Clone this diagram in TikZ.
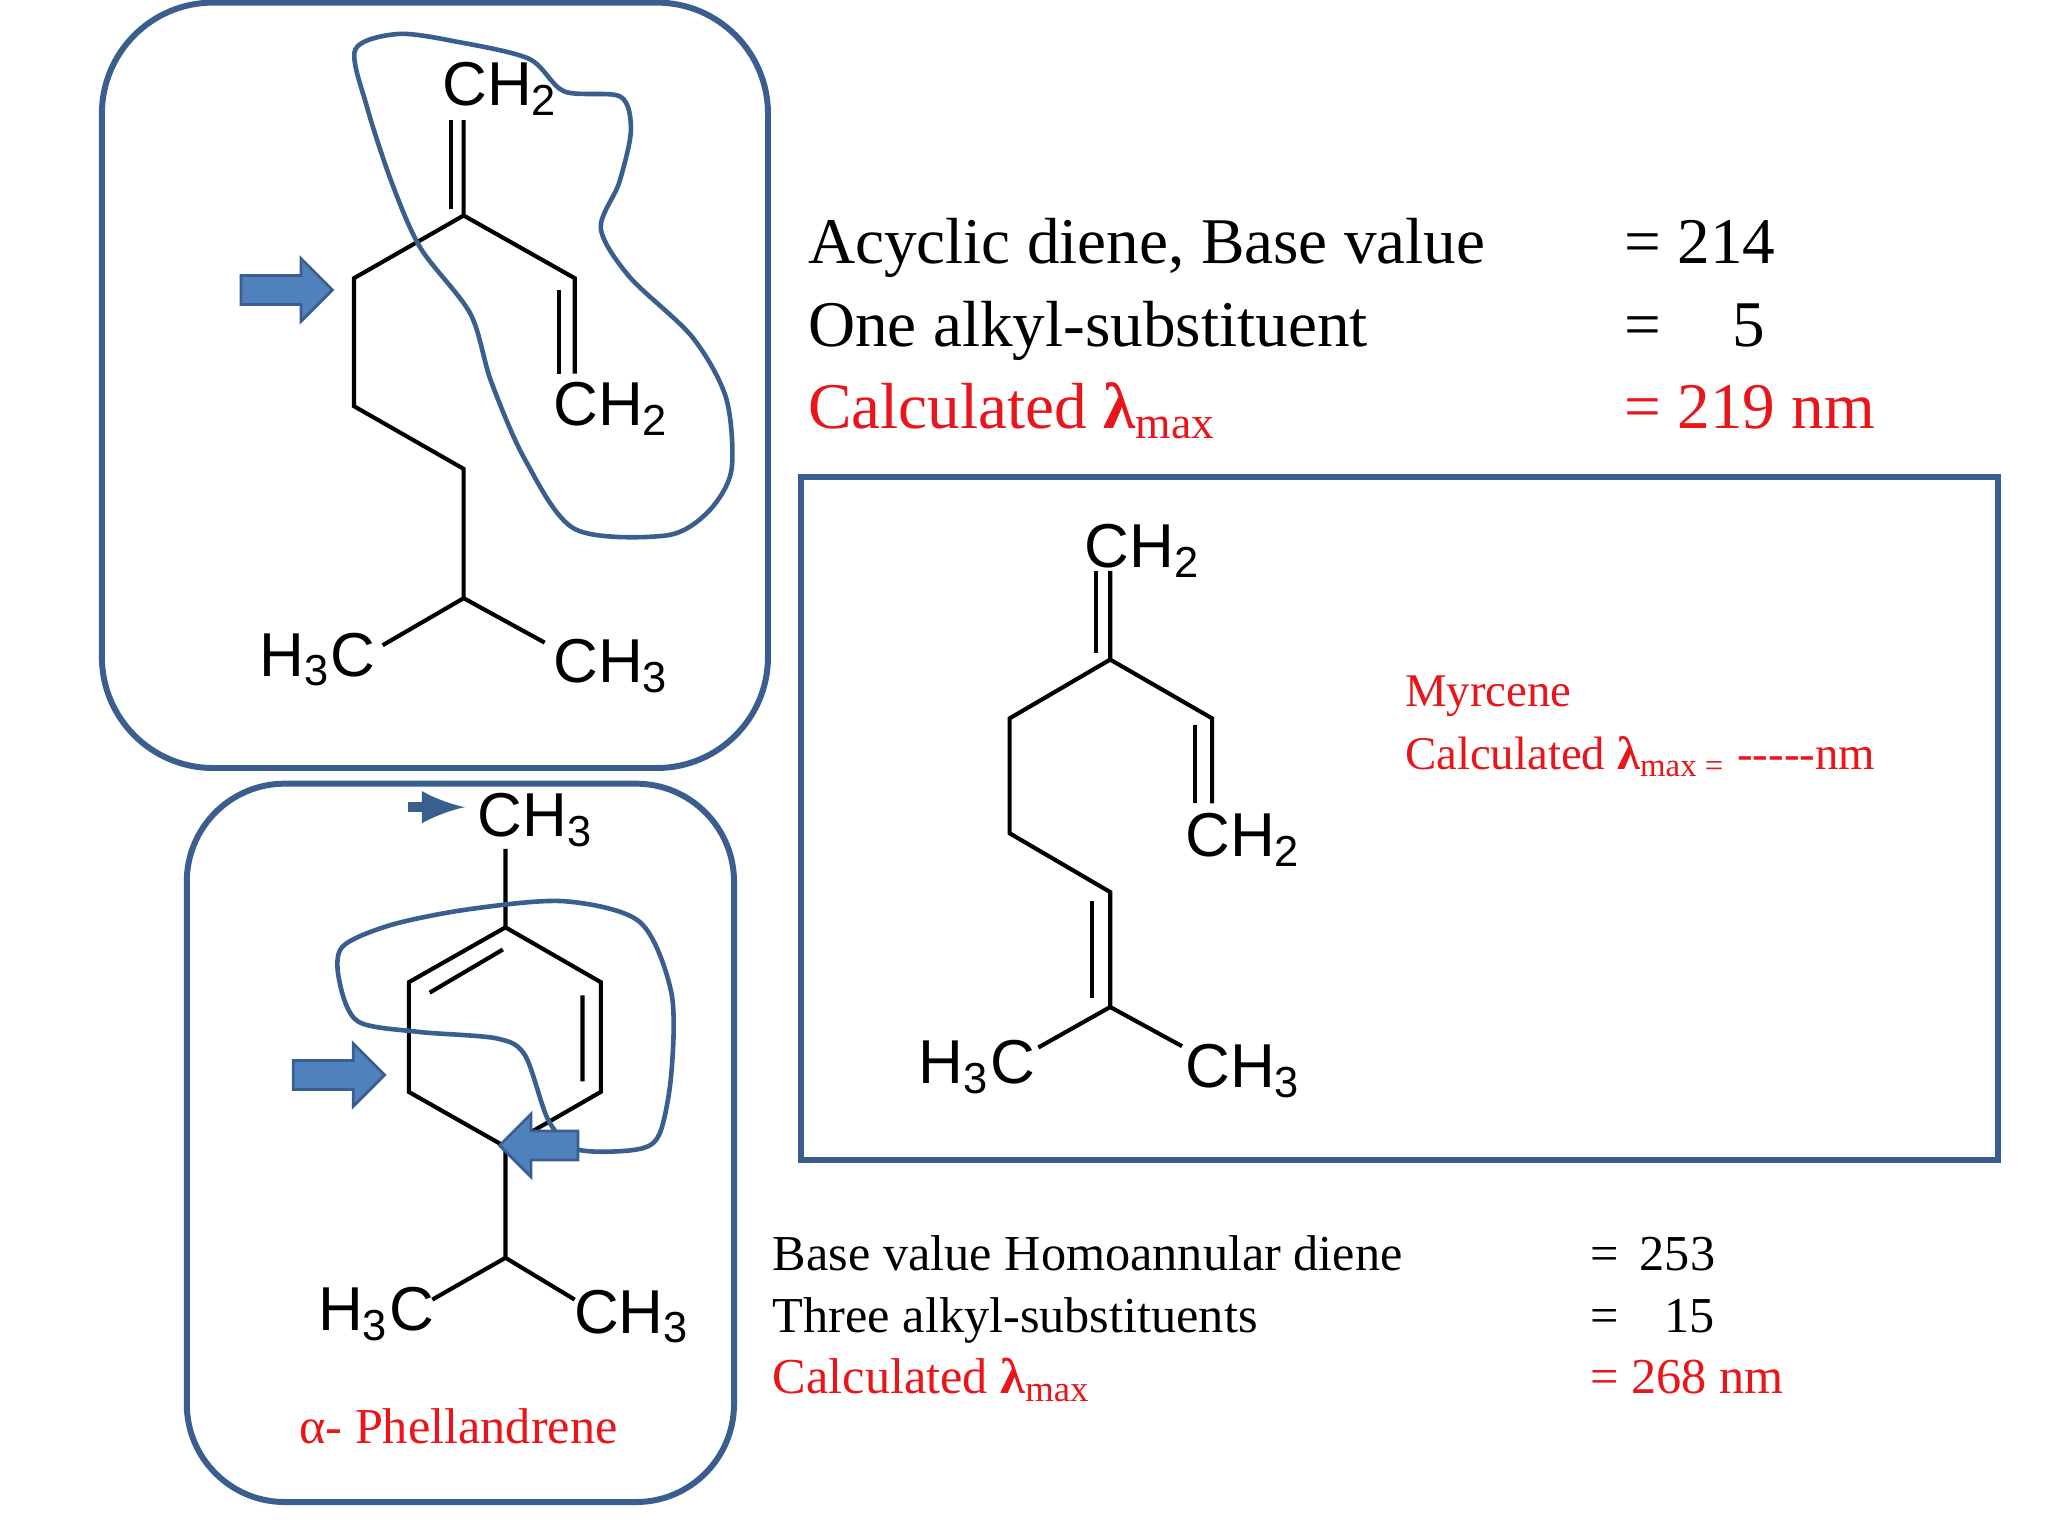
\documentclass[tikz,border=0pt]{standalone}
\usepackage{fontspec}
\setmainfont{Liberation Serif}
\newfontfamily\chem{Liberation Sans}
\usetikzlibrary{shapes.arrows}
\definecolor{frame}{HTML}{3A5F8F}
\definecolor{arr}{HTML}{4F81BD}
\definecolor{red1}{HTML}{E8161B}
\begin{document}
\begin{tikzpicture}[x=0.01cm,y=-0.01cm,
  box/.style={draw=frame,line width=1.3pt},
  bd/.style={line width=0.9pt},
  lab/.style={font=\chem\fontsize{13.5}{15}\selectfont,inner sep=0pt},
  big/.style={font=\fontsize{14.2}{16}\selectfont,anchor=base west,inner sep=0pt},
  mid/.style={font=\fontsize{10.2}{12}\selectfont,anchor=base west,inner sep=0pt},
  low/.style={font=\fontsize{10.95}{12}\selectfont,anchor=base west,inner sep=0pt},
  lasso/.style={draw=frame,line width=1pt},
  barrow/.style={single arrow,fill=arr,draw=frame,line width=0.6pt,inner xsep=0pt,inner ysep=0.1cm,single arrow head extend=0.13cm,minimum height=0.7cm}]
\useasboundingbox (0,0) rectangle (1568,1176);
\fill[white] (0,0) rectangle (1568,1176);
% boxes
\draw[box,rounded corners=0.85cm] (78,2) rectangle (588,588);
\draw[box,rounded corners=0.75cm] (143,600) rectangle (562,1150);
\draw[box] (613,365) rectangle (1530,888);
% molecule 1
\coordinate (a1) at (355,165); \coordinate (a2) at (440,213); \coordinate (a3) at (440,286);
\coordinate (a4) at (271,213); \coordinate (a5) at (271,311); \coordinate (a6) at (355,359);
\coordinate (a7) at (355,458); \coordinate (a8) at (293,494); \coordinate (a9) at (417,492);
\coordinate (a0) at (355,92);
\node[lab] (l1) at (383,68) {CH\textsubscript{2}};
\node[lab] (l2) at (468,313) {CH\textsubscript{2}};
\node[lab] (l3) at (243,505) {H\textsubscript{3}C};
\node[lab] (l4) at (468,510) {CH\textsubscript{3}};
\draw[bd] (a0)--(a1)--(a2)--(a3) (a1)--(a4)--(a5)--(a6)--(a7)--(a8) (a7)--(a9);
\draw[bd] (345,92)--(345,160) (428,222)--(428,286);
\draw[lasso] plot[smooth cycle,tension=0.5] coordinates{(272,38) (305,26) (350,32) (405,45) (432,70) (475,74) (483,100) (474,140) (460,175) (482,212) (530,258) (556,305) (560,360) (542,392) (510,410) (440,405) (402,352) (376,292) (360,240) (322,190) (300,140) (281,82)};
\node[barrow] (ar1) at (214,222) {};
% molecule 2
\coordinate (b0) at (387,650); \coordinate (b1) at (387,710); \coordinate (b2) at (460,752);
\coordinate (b3) at (460,836); \coordinate (b4) at (387,878); \coordinate (b5) at (313,836);
\coordinate (b6) at (313,752); \coordinate (b7) at (387,963); \coordinate (b8) at (331,995);
\coordinate (b9) at (440,995);
\node[lab] (m1) at (410,628) {CH\textsubscript{3}};
\node[lab] (m2) at (288,1006) {H\textsubscript{3}C};
\node[lab] (m3) at (484,1008) {CH\textsubscript{3}};
\draw[bd] (b0)--(b1) (b1)--(b2)--(b3)--(b4)--(b5)--(b6)--(b1) (b4)--(b7)--(b8) (b7)--(b9);
\draw[bd] (329,760)--(385,727) (446,762)--(446,828);
\draw[lasso] plot[smooth cycle,tension=0.5] coordinates{(262,725) (300,708) (360,696) (432,690) (490,706) (514,760) (514,822) (505,868) (488,880) (442,880) (420,858) (402,808) (380,795) (320,790) (274,782) (260,752)};
\node[barrow] (ar2) at (254,823) {};
\node[barrow,shape border rotate=180,minimum height=0.6cm] (ar3) at (418,877) {};
\draw[-latex,frame,line width=2.2pt] (312,618)--(356,618);
\node[font=\fontsize{10.95}{12}\selectfont,text=red1] (ph) at (351,1092) {α- Phellandrene};
% myrcene
\coordinate (c0) at (850,437); \coordinate (c1) at (850,505); \coordinate (c2) at (928,550);
\coordinate (c3) at (928,615); \coordinate (c4) at (773,550); \coordinate (c5) at (773,638);
\coordinate (c6) at (850,683); \coordinate (c7) at (850,771); \coordinate (c8) at (795,802);
\coordinate (c9) at (905,801);
\node[lab] (n1) at (875,422) {CH\textsubscript{2}};
\node[lab] (n2) at (952,643) {CH\textsubscript{2}};
\node[lab] (n3) at (748,817) {H\textsubscript{3}C};
\node[lab] (n4) at (952,820) {CH\textsubscript{3}};
\draw[bd] (c0)--(c1)--(c2)--(c3) (c1)--(c4)--(c5)--(c6)--(c7)--(c8) (c7)--(c9);
\draw[bd] (839,437)--(839,500) (915,555)--(915,615) (836,690)--(836,764);
\node[mid,text=red1] (t1) at (1075,541) {Myrcene};
\node[mid,text=red1] (t2) at (1075,589) {Calculated \textbf{λ}\textsubscript{max =} {-}{-}{-}{-}{-}nm};
% right text
\node[big] (r1) at (618,202) {Acyclic diene, Base value};
\node[big] (r2) at (618,265) {One alkyl-substituent};
\node[big,text=red1] (r3) at (618,328) {Calculated \textbf{λ}\textsubscript{max}};
\node[big] (v1) at (1243,202) {= 214};
\node[big] (v2) at (1243,265) {=\hspace{1.1em}5};
\node[big,text=red1] (v3) at (1243,328) {= 219 nm};
% bottom text
\node[low] (s1) at (591,973) {Base value Homoannular diene};
\node[low] (s2) at (591,1020) {Three alkyl-substituents};
\node[low,text=red1] (s3) at (591,1067) {Calculated \textbf{λ}\textsubscript{max}};
\node[low] (w1) at (1217,973) {=\, 253};
\node[low] (w2) at (1217,1020) {=\hspace{0.9em}15};
\node[low,text=red1] (w3) at (1217,1067) {= 268 nm};
\end{tikzpicture}
\end{document}
